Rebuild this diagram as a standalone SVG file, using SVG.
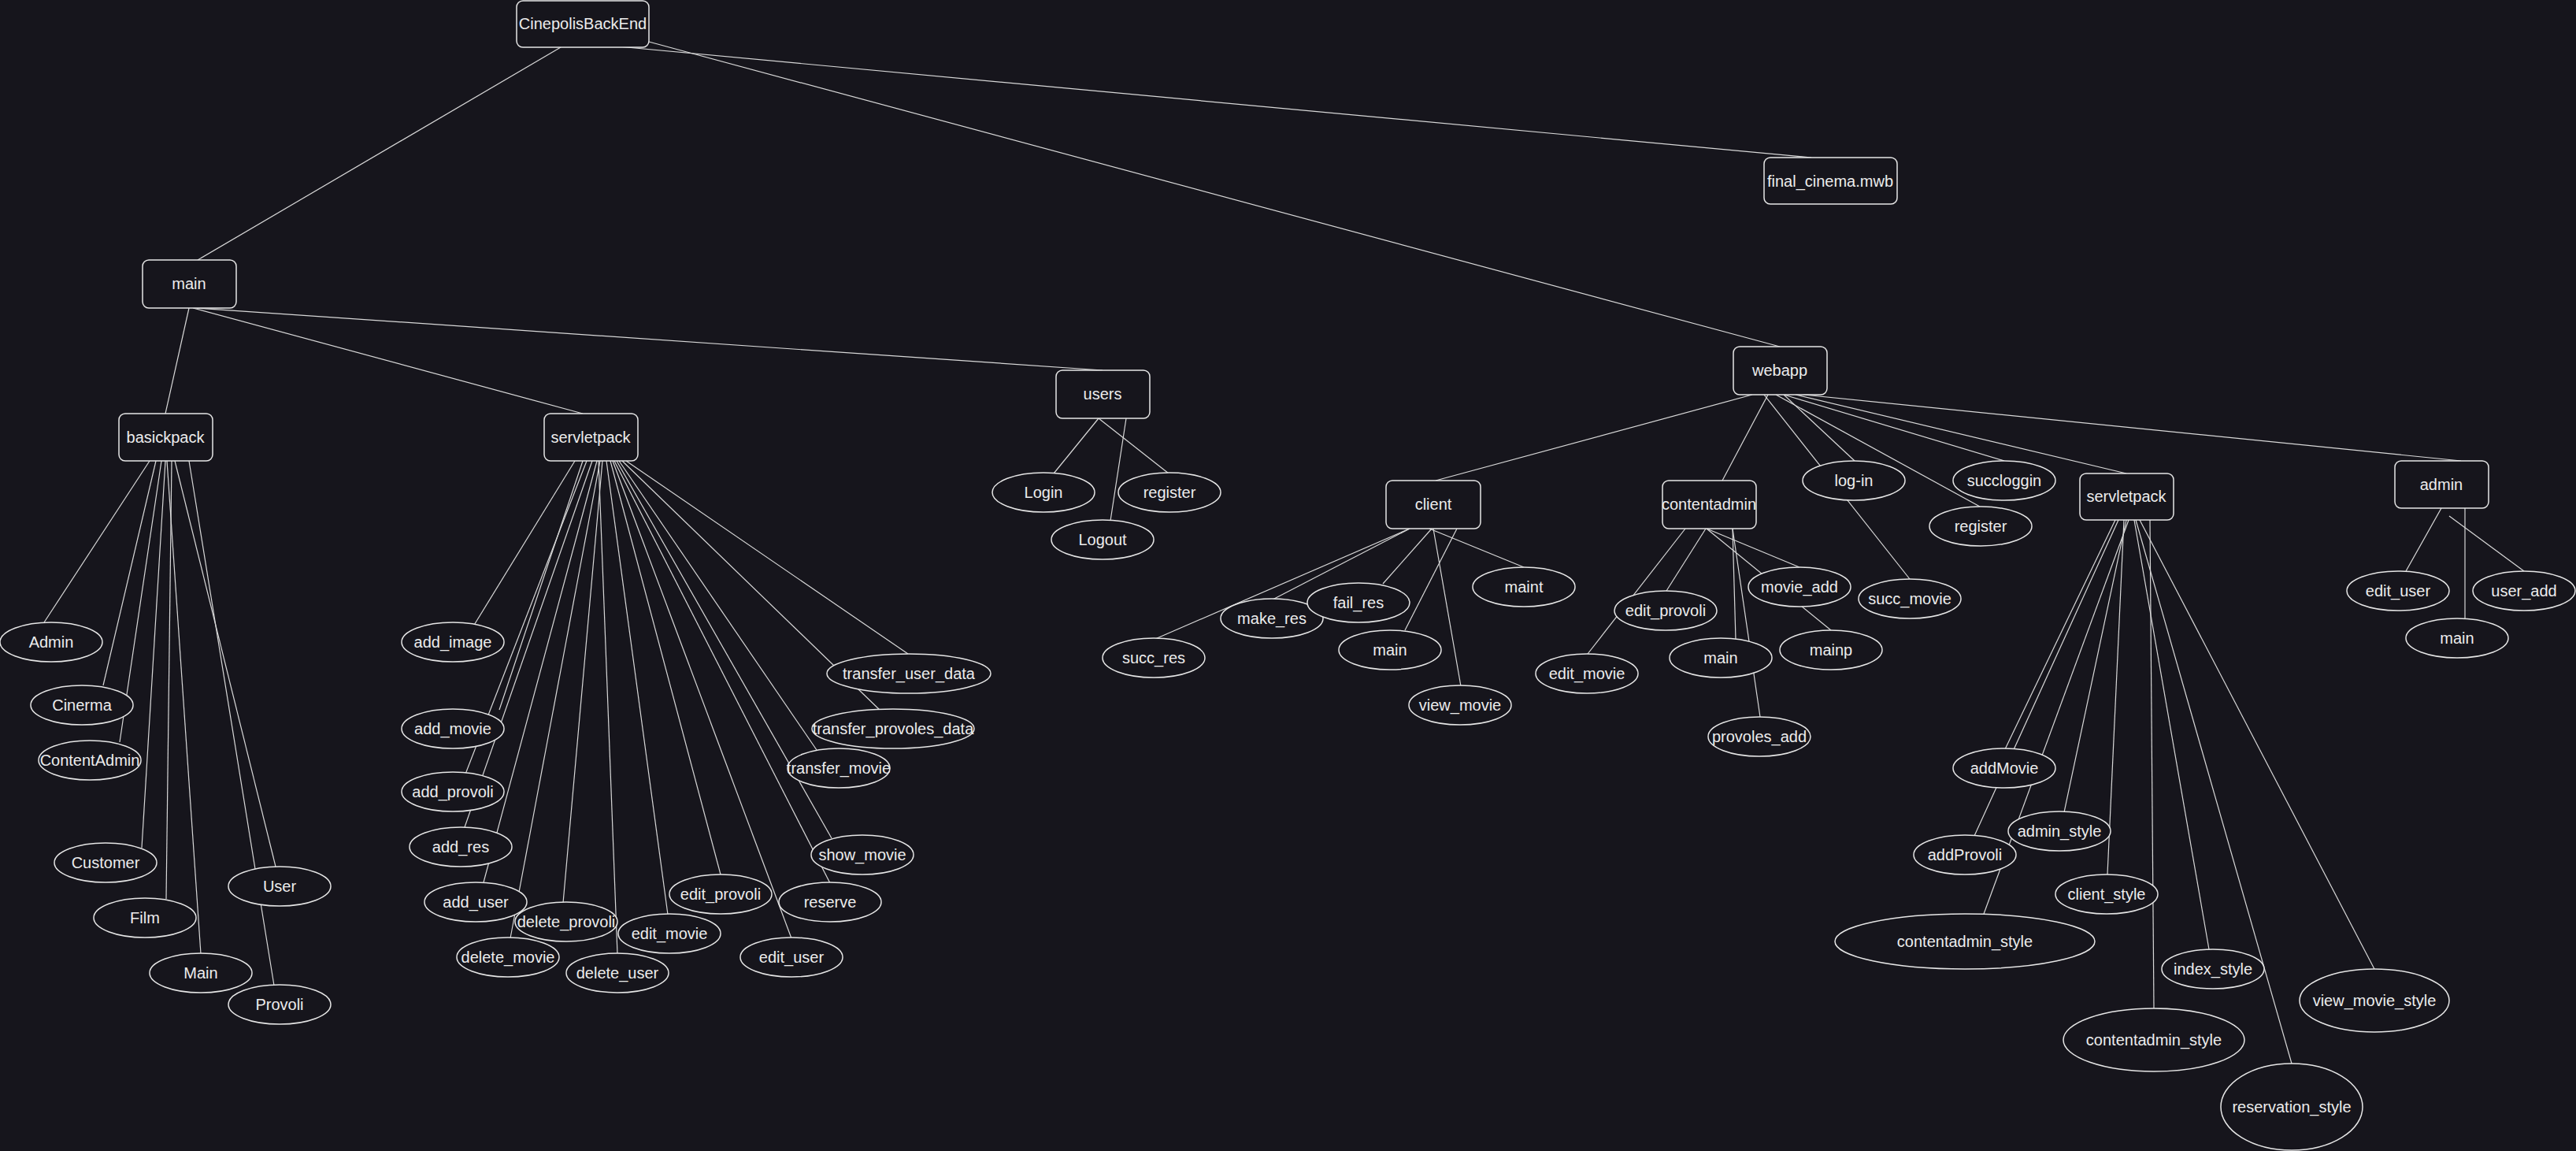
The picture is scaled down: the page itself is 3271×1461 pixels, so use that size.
<svg xmlns="http://www.w3.org/2000/svg" width="3271" height="1461" viewBox="0 0 3271 1461">
<style>
.bg{fill:#16151c}
.n rect,.n ellipse{fill:#16151c;stroke:#e6e6e6;stroke-width:1.5}
.n text{font-family:"Liberation Sans",Arial,sans-serif;font-size:20px;fill:#ececec;text-anchor:middle;dominant-baseline:central}
#edges line{stroke:#d8d8d8;stroke-width:1.2}
</style>
<rect class="bg" width="3271" height="1461"/>
<g id="edges">
<line x1="712" y1="60" x2="251" y2="330"/>
<line x1="785" y1="59" x2="2300" y2="200"/>
<line x1="824" y1="53" x2="2260" y2="440"/>
<line x1="240" y1="391" x2="210" y2="525"/>
<line x1="245" y1="391" x2="740" y2="525"/>
<line x1="250" y1="391" x2="1400" y2="470"/>
<line x1="190" y1="585" x2="56" y2="790"/>
<line x1="198" y1="585" x2="131" y2="870"/>
<line x1="205" y1="585" x2="152" y2="942"/>
<line x1="210" y1="585" x2="180" y2="1076"/>
<line x1="218" y1="585" x2="211" y2="1141"/>
<line x1="212" y1="585" x2="255" y2="1211"/>
<line x1="222" y1="585" x2="350" y2="1100"/>
<line x1="240" y1="585" x2="348" y2="1251"/>
<line x1="730" y1="585" x2="601" y2="795"/>
<line x1="740" y1="585" x2="634" y2="901"/>
<line x1="745" y1="585" x2="590" y2="985"/>
<line x1="752" y1="585" x2="590" y2="1050"/>
<line x1="758" y1="585" x2="614" y2="1120"/>
<line x1="762" y1="585" x2="648" y2="1191"/>
<line x1="765" y1="585" x2="715" y2="1146"/>
<line x1="760" y1="585" x2="784" y2="1211"/>
<line x1="770" y1="585" x2="848" y2="1161"/>
<line x1="775" y1="585" x2="915" y2="1110"/>
<line x1="778" y1="585" x2="1005" y2="1191"/>
<line x1="780" y1="585" x2="1054" y2="1121"/>
<line x1="783" y1="585" x2="1056" y2="1064"/>
<line x1="786" y1="585" x2="1037" y2="952"/>
<line x1="790" y1="585" x2="1119" y2="903"/>
<line x1="795" y1="585" x2="1153" y2="830"/>
<line x1="1395" y1="531" x2="1338" y2="601"/>
<line x1="1395" y1="531" x2="1484" y2="601"/>
<line x1="1430" y1="531" x2="1410" y2="661"/>
<line x1="2225" y1="501" x2="1823" y2="610"/>
<line x1="2245" y1="501" x2="2187" y2="610"/>
<line x1="2265" y1="501" x2="2355" y2="585"/>
<line x1="2240" y1="501" x2="2425" y2="735"/>
<line x1="2255" y1="501" x2="2514" y2="643"/>
<line x1="2265" y1="501" x2="2545" y2="585"/>
<line x1="2280" y1="501" x2="2700" y2="601"/>
<line x1="2290" y1="501" x2="3125" y2="585"/>
<line x1="1790" y1="671" x2="1467" y2="811"/>
<line x1="1790" y1="671" x2="1616" y2="761"/>
<line x1="1818" y1="671" x2="1756" y2="741"/>
<line x1="1850" y1="671" x2="1784" y2="800"/>
<line x1="1820" y1="671" x2="1855" y2="871"/>
<line x1="1815" y1="671" x2="1935" y2="720"/>
<line x1="2140" y1="671" x2="2016" y2="830"/>
<line x1="2166" y1="671" x2="2116" y2="750"/>
<line x1="2167" y1="671" x2="2285" y2="720"/>
<line x1="2167" y1="671" x2="2325" y2="800"/>
<line x1="2200" y1="671" x2="2204" y2="812"/>
<line x1="2200" y1="671" x2="2235" y2="910"/>
<line x1="2686" y1="660" x2="2546" y2="951"/>
<line x1="2690" y1="660" x2="2507" y2="1061"/>
<line x1="2700" y1="660" x2="2621" y2="1031"/>
<line x1="2697" y1="660" x2="2676" y2="1110"/>
<line x1="2703" y1="660" x2="2519" y2="1160"/>
<line x1="2710" y1="660" x2="2805" y2="1205"/>
<line x1="2730" y1="660" x2="2735" y2="1280"/>
<line x1="2712" y1="660" x2="2910" y2="1350"/>
<line x1="2717" y1="660" x2="3015" y2="1230"/>
<line x1="3100" y1="645" x2="3055" y2="725"/>
<line x1="3130" y1="645" x2="3130" y2="785"/>
<line x1="3110" y1="655" x2="3205" y2="725"/>
</g>
<g id="n_root" class="n"><rect x="656" y="1" width="168" height="59" rx="8"/><text x="740" y="30">CinepolisBackEnd</text></g>
<g id="n_final" class="n"><rect x="2240" y="200" width="169" height="59" rx="8"/><text x="2324" y="230">final_cinema.mwb</text></g>
<g id="n_main" class="n"><rect x="181" y="330" width="119" height="61" rx="8"/><text x="240" y="360">main</text></g>
<g id="n_basickpack" class="n"><rect x="151" y="525" width="119" height="60" rx="8"/><text x="210" y="555">basickpack</text></g>
<g id="n_servletpack" class="n"><rect x="691" y="525" width="119" height="60" rx="8"/><text x="750" y="555">servletpack</text></g>
<g id="n_users" class="n"><rect x="1341" y="470" width="119" height="61" rx="8"/><text x="1400" y="500">users</text></g>
<g id="n_webapp" class="n"><rect x="2201" y="440" width="119" height="61" rx="8"/><text x="2260" y="470">webapp</text></g>
<g id="n_client" class="n"><rect x="1760" y="610" width="120" height="61" rx="8"/><text x="1820" y="640">client</text></g>
<g id="n_contentadmin" class="n"><rect x="2111" y="610" width="119" height="61" rx="8"/><text x="2170" y="640">contentadmin</text></g>
<g id="n_servletpack2" class="n"><rect x="2641" y="601" width="119" height="59" rx="8"/><text x="2700" y="630">servletpack</text></g>
<g id="n_admin" class="n"><rect x="3041" y="585" width="119" height="60" rx="8"/><text x="3100" y="615">admin</text></g>
<g id="e_Admin" class="n"><ellipse cx="65" cy="815" rx="65" ry="25"/><text x="65" y="815">Admin</text></g>
<g id="e_Cinerma" class="n"><ellipse cx="104" cy="895" rx="65" ry="25"/><text x="104" y="895">Cinerma</text></g>
<g id="e_ContentAdmin" class="n"><ellipse cx="114" cy="965" rx="65" ry="25"/><text x="114" y="965">ContentAdmin</text></g>
<g id="e_Customer" class="n"><ellipse cx="134" cy="1095" rx="65" ry="25"/><text x="134" y="1095">Customer</text></g>
<g id="e_Film" class="n"><ellipse cx="184" cy="1165" rx="65" ry="25"/><text x="184" y="1165">Film</text></g>
<g id="e_Main" class="n"><ellipse cx="255" cy="1235" rx="65" ry="25"/><text x="255" y="1235">Main</text></g>
<g id="e_User" class="n"><ellipse cx="355" cy="1125" rx="65" ry="25"/><text x="355" y="1125">User</text></g>
<g id="e_Provoli" class="n"><ellipse cx="355" cy="1275" rx="65" ry="25"/><text x="355" y="1275">Provoli</text></g>
<g id="e_add_image" class="n"><ellipse cx="575" cy="815" rx="65" ry="25"/><text x="575" y="815">add_image</text></g>
<g id="e_add_movie" class="n"><ellipse cx="575" cy="925" rx="65" ry="25"/><text x="575" y="925">add_movie</text></g>
<g id="e_add_provoli" class="n"><ellipse cx="575" cy="1005" rx="65" ry="25"/><text x="575" y="1005">add_provoli</text></g>
<g id="e_add_res" class="n"><ellipse cx="585" cy="1075" rx="65" ry="25"/><text x="585" y="1075">add_res</text></g>
<g id="e_add_user" class="n"><ellipse cx="604" cy="1145" rx="65" ry="25"/><text x="604" y="1145">add_user</text></g>
<g id="e_delete_movie" class="n"><ellipse cx="645" cy="1215" rx="65" ry="25"/><text x="645" y="1215">delete_movie</text></g>
<g id="e_delete_provoli" class="n"><ellipse cx="719" cy="1170" rx="65" ry="25"/><text x="719" y="1170">delete_provoli</text></g>
<g id="e_delete_user" class="n"><ellipse cx="784" cy="1235" rx="65" ry="25"/><text x="784" y="1235">delete_user</text></g>
<g id="e_edit_movie" class="n"><ellipse cx="850" cy="1185" rx="65" ry="25"/><text x="850" y="1185">edit_movie</text></g>
<g id="e_edit_provoli" class="n"><ellipse cx="915" cy="1135" rx="65" ry="25"/><text x="915" y="1135">edit_provoli</text></g>
<g id="e_edit_user" class="n"><ellipse cx="1005" cy="1215" rx="65" ry="25"/><text x="1005" y="1215">edit_user</text></g>
<g id="e_reserve" class="n"><ellipse cx="1054" cy="1145" rx="65" ry="25"/><text x="1054" y="1145">reserve</text></g>
<g id="e_show_movie" class="n"><ellipse cx="1095" cy="1085" rx="65" ry="25"/><text x="1095" y="1085">show_movie</text></g>
<g id="e_transfer_movie" class="n"><ellipse cx="1065" cy="975" rx="65" ry="25"/><text x="1065" y="975">transfer_movie</text></g>
<g id="e_transfer_provoles_data" class="n"><ellipse cx="1134" cy="925" rx="103" ry="25"/><text x="1134" y="925">transfer_provoles_data</text></g>
<g id="e_transfer_user_data" class="n"><ellipse cx="1154" cy="855" rx="104" ry="25"/><text x="1154" y="855">transfer_user_data</text></g>
<g id="e_Login" class="n"><ellipse cx="1325" cy="625" rx="65" ry="25"/><text x="1325" y="625">Login</text></g>
<g id="e_register" class="n"><ellipse cx="1485" cy="625" rx="65" ry="25"/><text x="1485" y="625">register</text></g>
<g id="e_Logout" class="n"><ellipse cx="1400" cy="685" rx="65" ry="25"/><text x="1400" y="685">Logout</text></g>
<g id="e_succ_res" class="n"><ellipse cx="1465" cy="835" rx="65" ry="25"/><text x="1465" y="835">succ_res</text></g>
<g id="e_make_res" class="n"><ellipse cx="1615" cy="785" rx="65" ry="25"/><text x="1615" y="785">make_res</text></g>
<g id="e_fail_res" class="n"><ellipse cx="1725" cy="765" rx="65" ry="25"/><text x="1725" y="765">fail_res</text></g>
<g id="e_client_main" class="n"><ellipse cx="1765" cy="825" rx="65" ry="25"/><text x="1765" y="825">main</text></g>
<g id="e_maint" class="n"><ellipse cx="1935" cy="745" rx="65" ry="25"/><text x="1935" y="745">maint</text></g>
<g id="e_view_movie" class="n"><ellipse cx="1854" cy="895" rx="65" ry="25"/><text x="1854" y="895">view_movie</text></g>
<g id="e_ca_edit_movie" class="n"><ellipse cx="2015" cy="855" rx="65" ry="25"/><text x="2015" y="855">edit_movie</text></g>
<g id="e_ca_edit_provoli" class="n"><ellipse cx="2115" cy="775" rx="65" ry="25"/><text x="2115" y="775">edit_provoli</text></g>
<g id="e_ca_main" class="n"><ellipse cx="2185" cy="835" rx="65" ry="25"/><text x="2185" y="835">main</text></g>
<g id="e_movie_add" class="n"><ellipse cx="2285" cy="745" rx="65" ry="25"/><text x="2285" y="745">movie_add</text></g>
<g id="e_mainp" class="n"><ellipse cx="2325" cy="825" rx="65" ry="25"/><text x="2325" y="825">mainp</text></g>
<g id="e_provoles_add" class="n"><ellipse cx="2234" cy="935" rx="65" ry="25"/><text x="2234" y="935">provoles_add</text></g>
<g id="e_log_in" class="n"><ellipse cx="2354" cy="610" rx="65" ry="25"/><text x="2354" y="610">log-in</text></g>
<g id="e_succloggin" class="n"><ellipse cx="2545" cy="610" rx="65" ry="25"/><text x="2545" y="610">succloggin</text></g>
<g id="e_wregister" class="n"><ellipse cx="2515" cy="668" rx="65" ry="25"/><text x="2515" y="668">register</text></g>
<g id="e_succ_movie" class="n"><ellipse cx="2425" cy="760" rx="65" ry="25"/><text x="2425" y="760">succ_movie</text></g>
<g id="e_addMovie" class="n"><ellipse cx="2545" cy="975" rx="65" ry="25"/><text x="2545" y="975">addMovie</text></g>
<g id="e_admin_style" class="n"><ellipse cx="2615" cy="1055" rx="65" ry="25"/><text x="2615" y="1055">admin_style</text></g>
<g id="e_addProvoli" class="n"><ellipse cx="2495" cy="1085" rx="65" ry="25"/><text x="2495" y="1085">addProvoli</text></g>
<g id="e_client_style" class="n"><ellipse cx="2675" cy="1135" rx="65" ry="25"/><text x="2675" y="1135">client_style</text></g>
<g id="e_contentadmin_style1" class="n"><ellipse cx="2495" cy="1195" rx="165" ry="35"/><text x="2495" y="1195">contentadmin_style</text></g>
<g id="e_index_style" class="n"><ellipse cx="2810" cy="1230" rx="65" ry="25"/><text x="2810" y="1230">index_style</text></g>
<g id="e_contentadmin_style2" class="n"><ellipse cx="2735" cy="1320" rx="115" ry="40"/><text x="2735" y="1320">contentadmin_style</text></g>
<g id="e_view_movie_style" class="n"><ellipse cx="3015" cy="1270" rx="95" ry="40"/><text x="3015" y="1270">view_movie_style</text></g>
<g id="e_reservation_style" class="n"><ellipse cx="2910" cy="1405" rx="90" ry="55"/><text x="2910" y="1405">reservation_style</text></g>
<g id="e_a_edit_user" class="n"><ellipse cx="3045" cy="750" rx="65" ry="25"/><text x="3045" y="750">edit_user</text></g>
<g id="e_user_add" class="n"><ellipse cx="3205" cy="750" rx="65" ry="25"/><text x="3205" y="750">user_add</text></g>
<g id="e_a_main" class="n"><ellipse cx="3120" cy="810" rx="65" ry="25"/><text x="3120" y="810">main</text></g>
</svg>
